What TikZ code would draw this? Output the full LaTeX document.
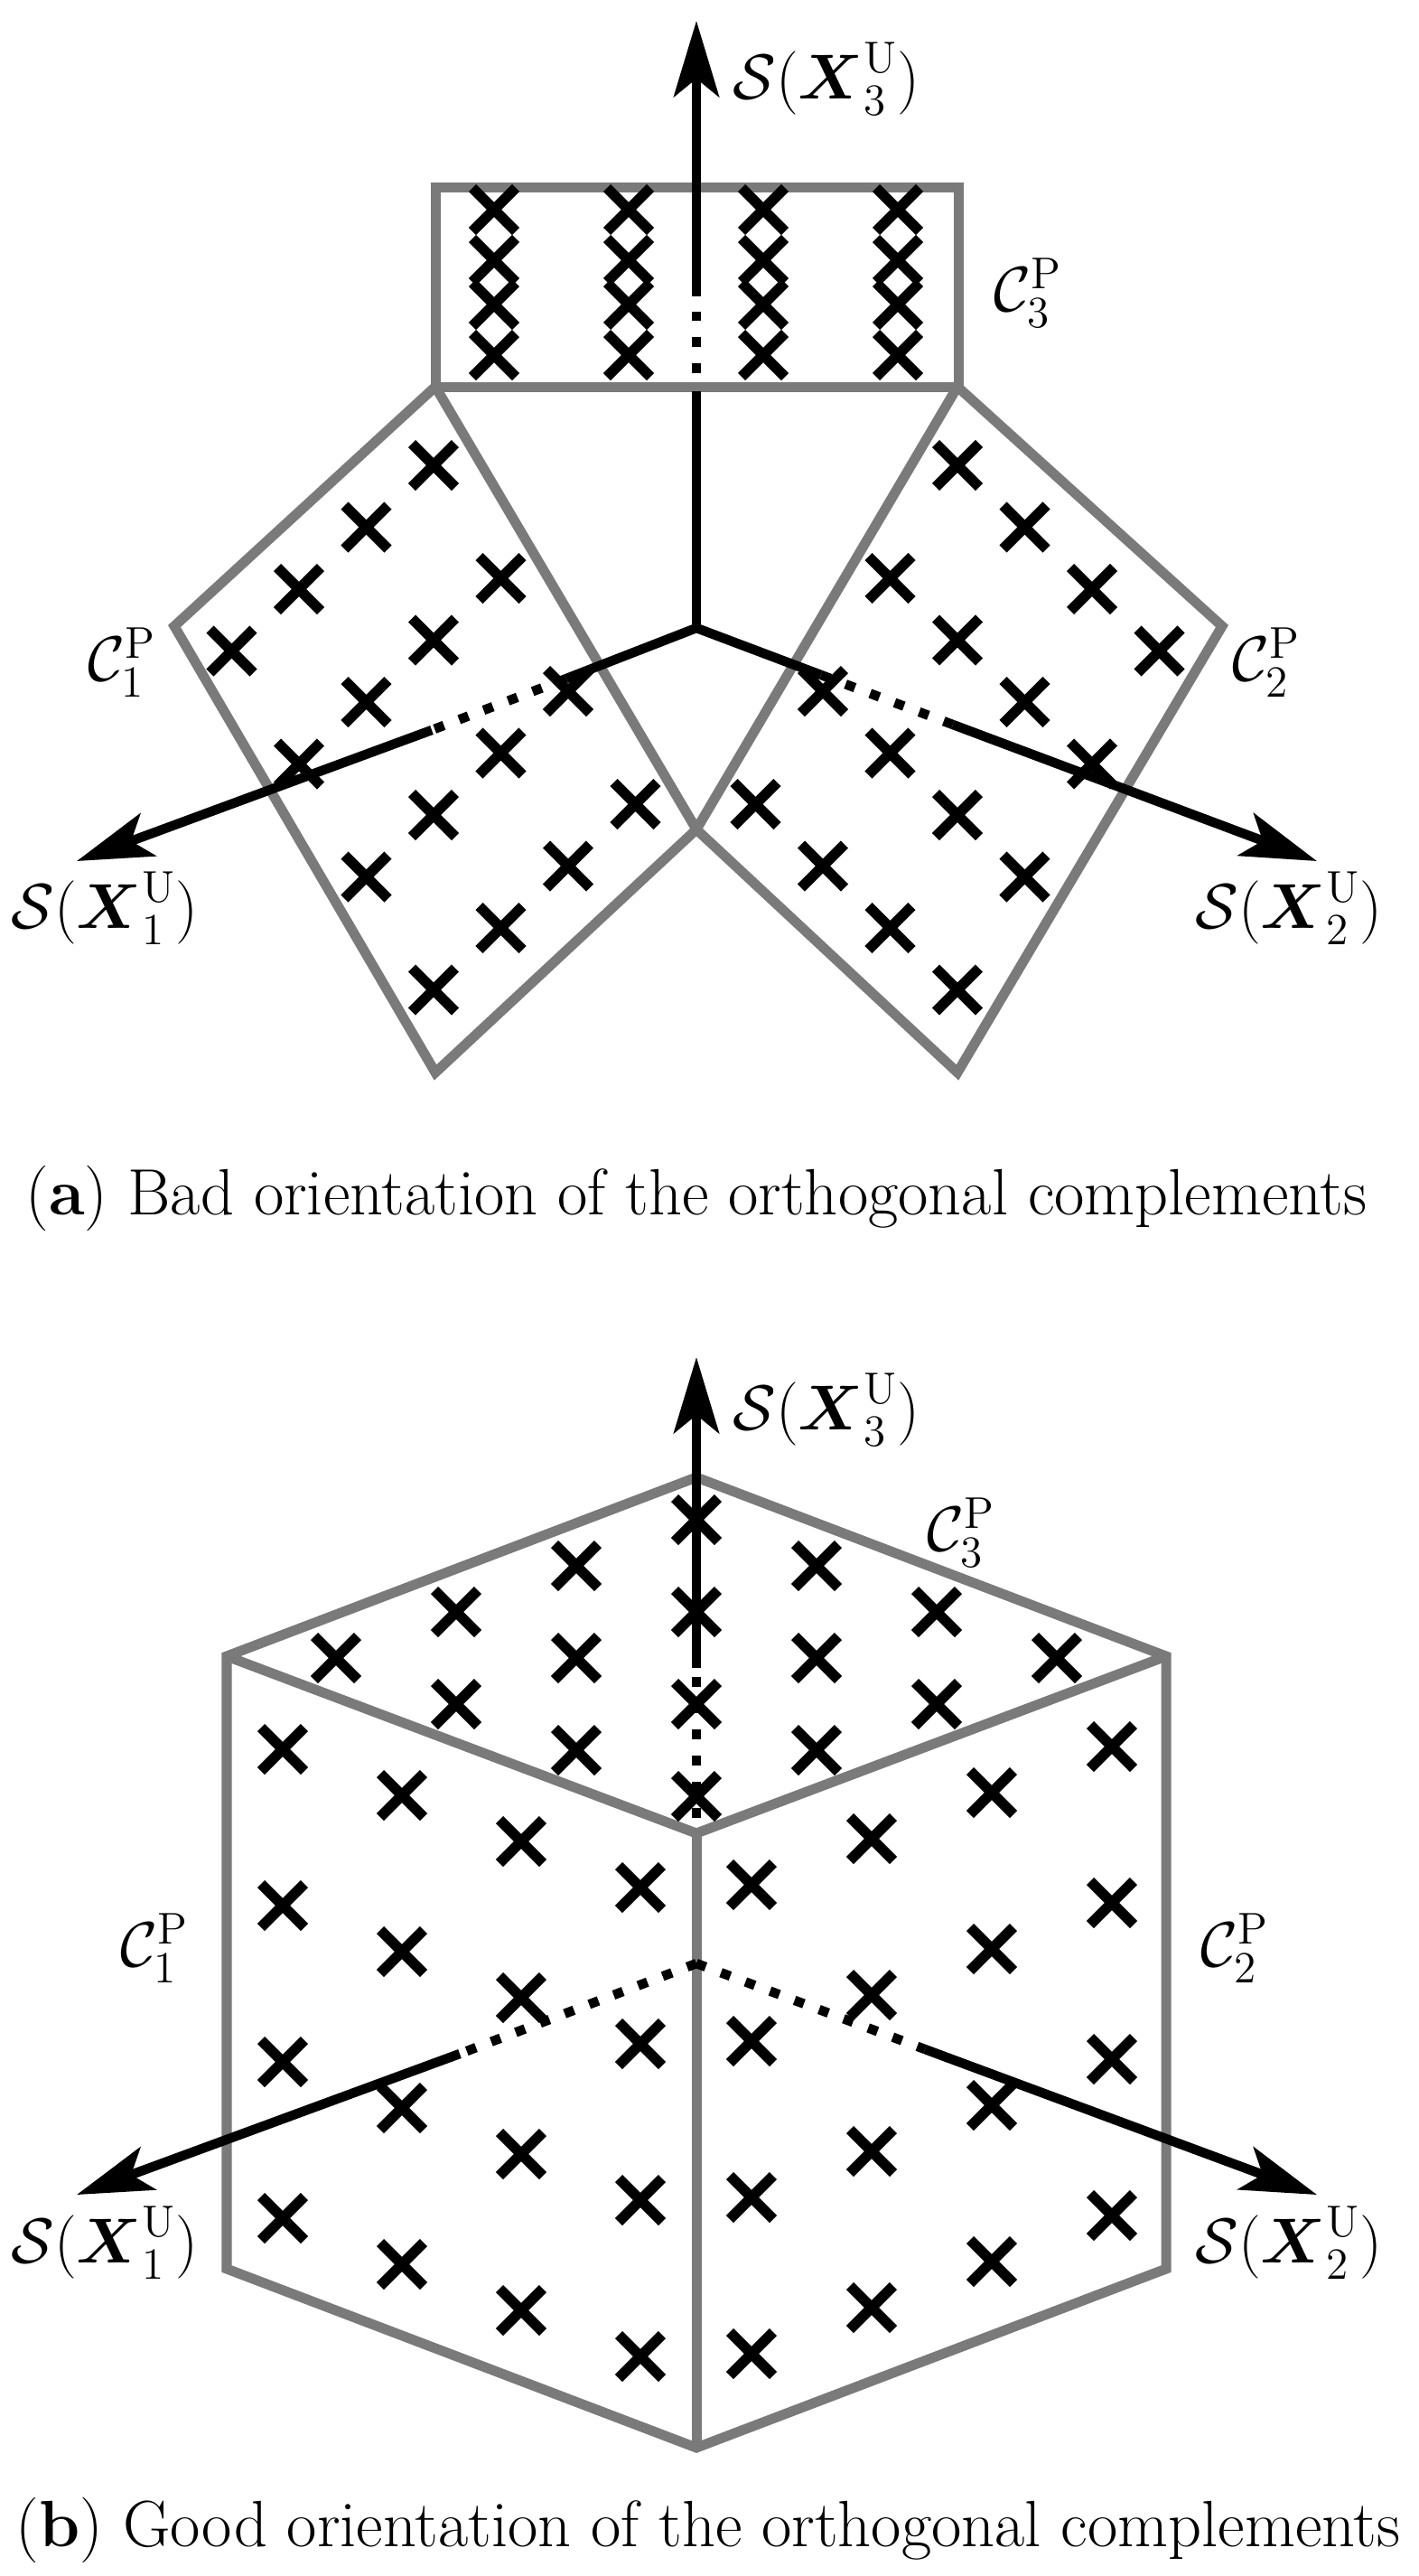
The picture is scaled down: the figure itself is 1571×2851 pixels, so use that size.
\RequirePackage{fix-cm}
\documentclass[tikz,border=0pt]{standalone}
\usepackage{amsmath}
\usetikzlibrary{arrows.meta}
\definecolor{facegray}{HTML}{7A7A7A}
\tikzset{
  face/.style={draw=facegray, line width=0.11cm, line join=miter},
  axisline/.style={black, line width=0.105cm},
  axisdots/.style={axisline, dash pattern=on 0.11cm off 0.18cm},
  axisarrow/.style={axisline, -{Stealth[length=0.84cm, width=0.5cm, inset=0.2cm]}},
  crossline/.style={black, line width=0.115cm},
  lab/.style={font=\fontsize{20}{24}\selectfont, inner sep=0pt},
  capt/.style={font=\fontsize{20.6}{24}\selectfont, inner sep=0pt}
}
\newcommand{\crossmark}[2]{\draw[crossline] (#1-24,#2-24) -- (#1+24,#2+24) (#1-24,#2+24) -- (#1+24,#2-24);}
\begin{document}
\begin{tikzpicture}[x=0.01cm, y=-0.01cm]
    \useasboundingbox (0,0) rectangle (1571,2851);

    % Upper picture: faces
    \draw[face] (482,207) rectangle (1061,428);
    \draw[face] (193,693) -- (482,428) -- (771,918) -- (482,1187) -- cycle;
    \draw[face] (1353,693) -- (1060,428) -- (771,918) -- (1060,1187) -- cycle;

    % Upper picture: crosses
    \foreach \cx in {547,696,845,994}
      \foreach \cy in {232,288,337,393}
        {\crossmark{\cx}{\cy}}
    \foreach \i in {0,...,3}
      \foreach \j in {0,...,3}
        {\crossmark{480-74.5*\i+74.5*\j}{515+68.5*\i+125*\j}
         \crossmark{1060+74.5*\i-74.5*\j}{515+68.5*\i+125*\j}}

    % Upper picture: axes
    \coordinate (Oa) at (771,695);
    \coordinate (a3low) at (771,433);
    \coordinate (a3dot) at (771,413);
    \coordinate (a3mid) at (771,345);
    \coordinate (a3high) at (771,328);
    \coordinate (a3tip) at (771,23);
    \coordinate (a1in) at (627,751);
    \coordinate (a1out) at (478,808);
    \coordinate (a1tip) at (85,953);
    \coordinate (a2in) at (909,747);
    \coordinate (a2out) at (1055,802);
    \coordinate (a2tip) at (1458,953);
    \draw[axisline] (Oa) -- (a3low);
    \draw[axisdots] (a3dot) -- (a3mid);
    \draw[axisarrow] (a3high) -- (a3tip);
    \draw[axisline] (Oa) -- (a1in);
    \draw[axisdots] (a1in) -- (a1out);
    \draw[axisarrow] (a1out) -- (a1tip);
    \draw[axisline] (Oa) -- (a2in);
    \draw[axisdots] (a2in) -- (a2out);
    \draw[axisarrow] (a2out) -- (a2tip);

    % Upper picture: labels
    \node[lab] (a3lab) at (915,87) {$\mathcal{S}(\boldsymbol{X}_3^{\mathrm{U}})$};
    \node[lab] (c3lab) at (1138,324) {$\mathcal{C}_3^{\mathrm{P}}$};
    \node[lab] (c1lab) at (135,733) {$\mathcal{C}_1^{\mathrm{P}}$};
    \node[lab] (c2lab) at (1402,733) {$\mathcal{C}_2^{\mathrm{P}}$};
    \node[lab] (a1lab) at (116,1005) {$\mathcal{S}(\boldsymbol{X}_1^{\mathrm{U}})$};
    \node[lab] (a2lab) at (1427,1005) {$\mathcal{S}(\boldsymbol{X}_2^{\mathrm{U}})$};
    \node[capt] (capta) at (771,1326) {(\textbf{a}) Bad orientation of the orthogonal complements};

    % Lower picture: faces
    \draw[face] (771,1635) -- (1291,1833) -- (1291,2511) -- (771,2709) -- (251,2511) -- (251,1833) -- cycle;
    \draw[face] (251,1833) -- (771,2029) -- (1291,1833);
    \draw[face] (771,2029) -- (771,2709);

    % Lower picture: crosses
    \foreach \i in {0,...,3}
      \foreach \j in {0,...,3}
        {\crossmark{313+132*\i}{1936+51*\i+173*\j}
         \crossmark{1231-133*\i}{1933+51*\i+173*\j}
         \crossmark{771-133*\i+133*\j}{1682+51*\i+51*\j}}

    % Lower picture: axes
    \coordinate (Ob) at (771,2173);
    \coordinate (b3dot) at (771,2012);
    \coordinate (b3high) at (771,1846);
    \coordinate (b3tip) at (771,1502);
    \coordinate (b1out) at (509,2273);
    \coordinate (b1tip) at (85,2429);
    \coordinate (b2out) at (1024,2268);
    \coordinate (b2tip) at (1458,2429);
    \draw[axisdots] (b3dot) -- (b3high);
    \draw[axisarrow] (b3high) -- (b3tip);
    \draw[axisdots] (Ob) -- (b1out);
    \draw[axisarrow] (b1out) -- (b1tip);
    \draw[axisdots] (Ob) -- (b2out);
    \draw[axisarrow] (b2out) -- (b2tip);

    % Lower picture: labels
    \node[lab] (b3lab) at (915,1560) {$\mathcal{S}(\boldsymbol{X}_3^{\mathrm{U}})$};
    \node[lab] (d3lab) at (1064,1696) {$\mathcal{C}_3^{\mathrm{P}}$};
    \node[lab] (d1lab) at (171,2156) {$\mathcal{C}_1^{\mathrm{P}}$};
    \node[lab] (d2lab) at (1367,2156) {$\mathcal{C}_2^{\mathrm{P}}$};
    \node[lab] (b1lab) at (116,2482) {$\mathcal{S}(\boldsymbol{X}_1^{\mathrm{U}})$};
    \node[lab] (b2lab) at (1427,2482) {$\mathcal{S}(\boldsymbol{X}_2^{\mathrm{U}})$};
    \node[capt] (captb) at (784,2800) {(\textbf{b}) Good orientation of the orthogonal complements};
\end{tikzpicture}
\end{document}
